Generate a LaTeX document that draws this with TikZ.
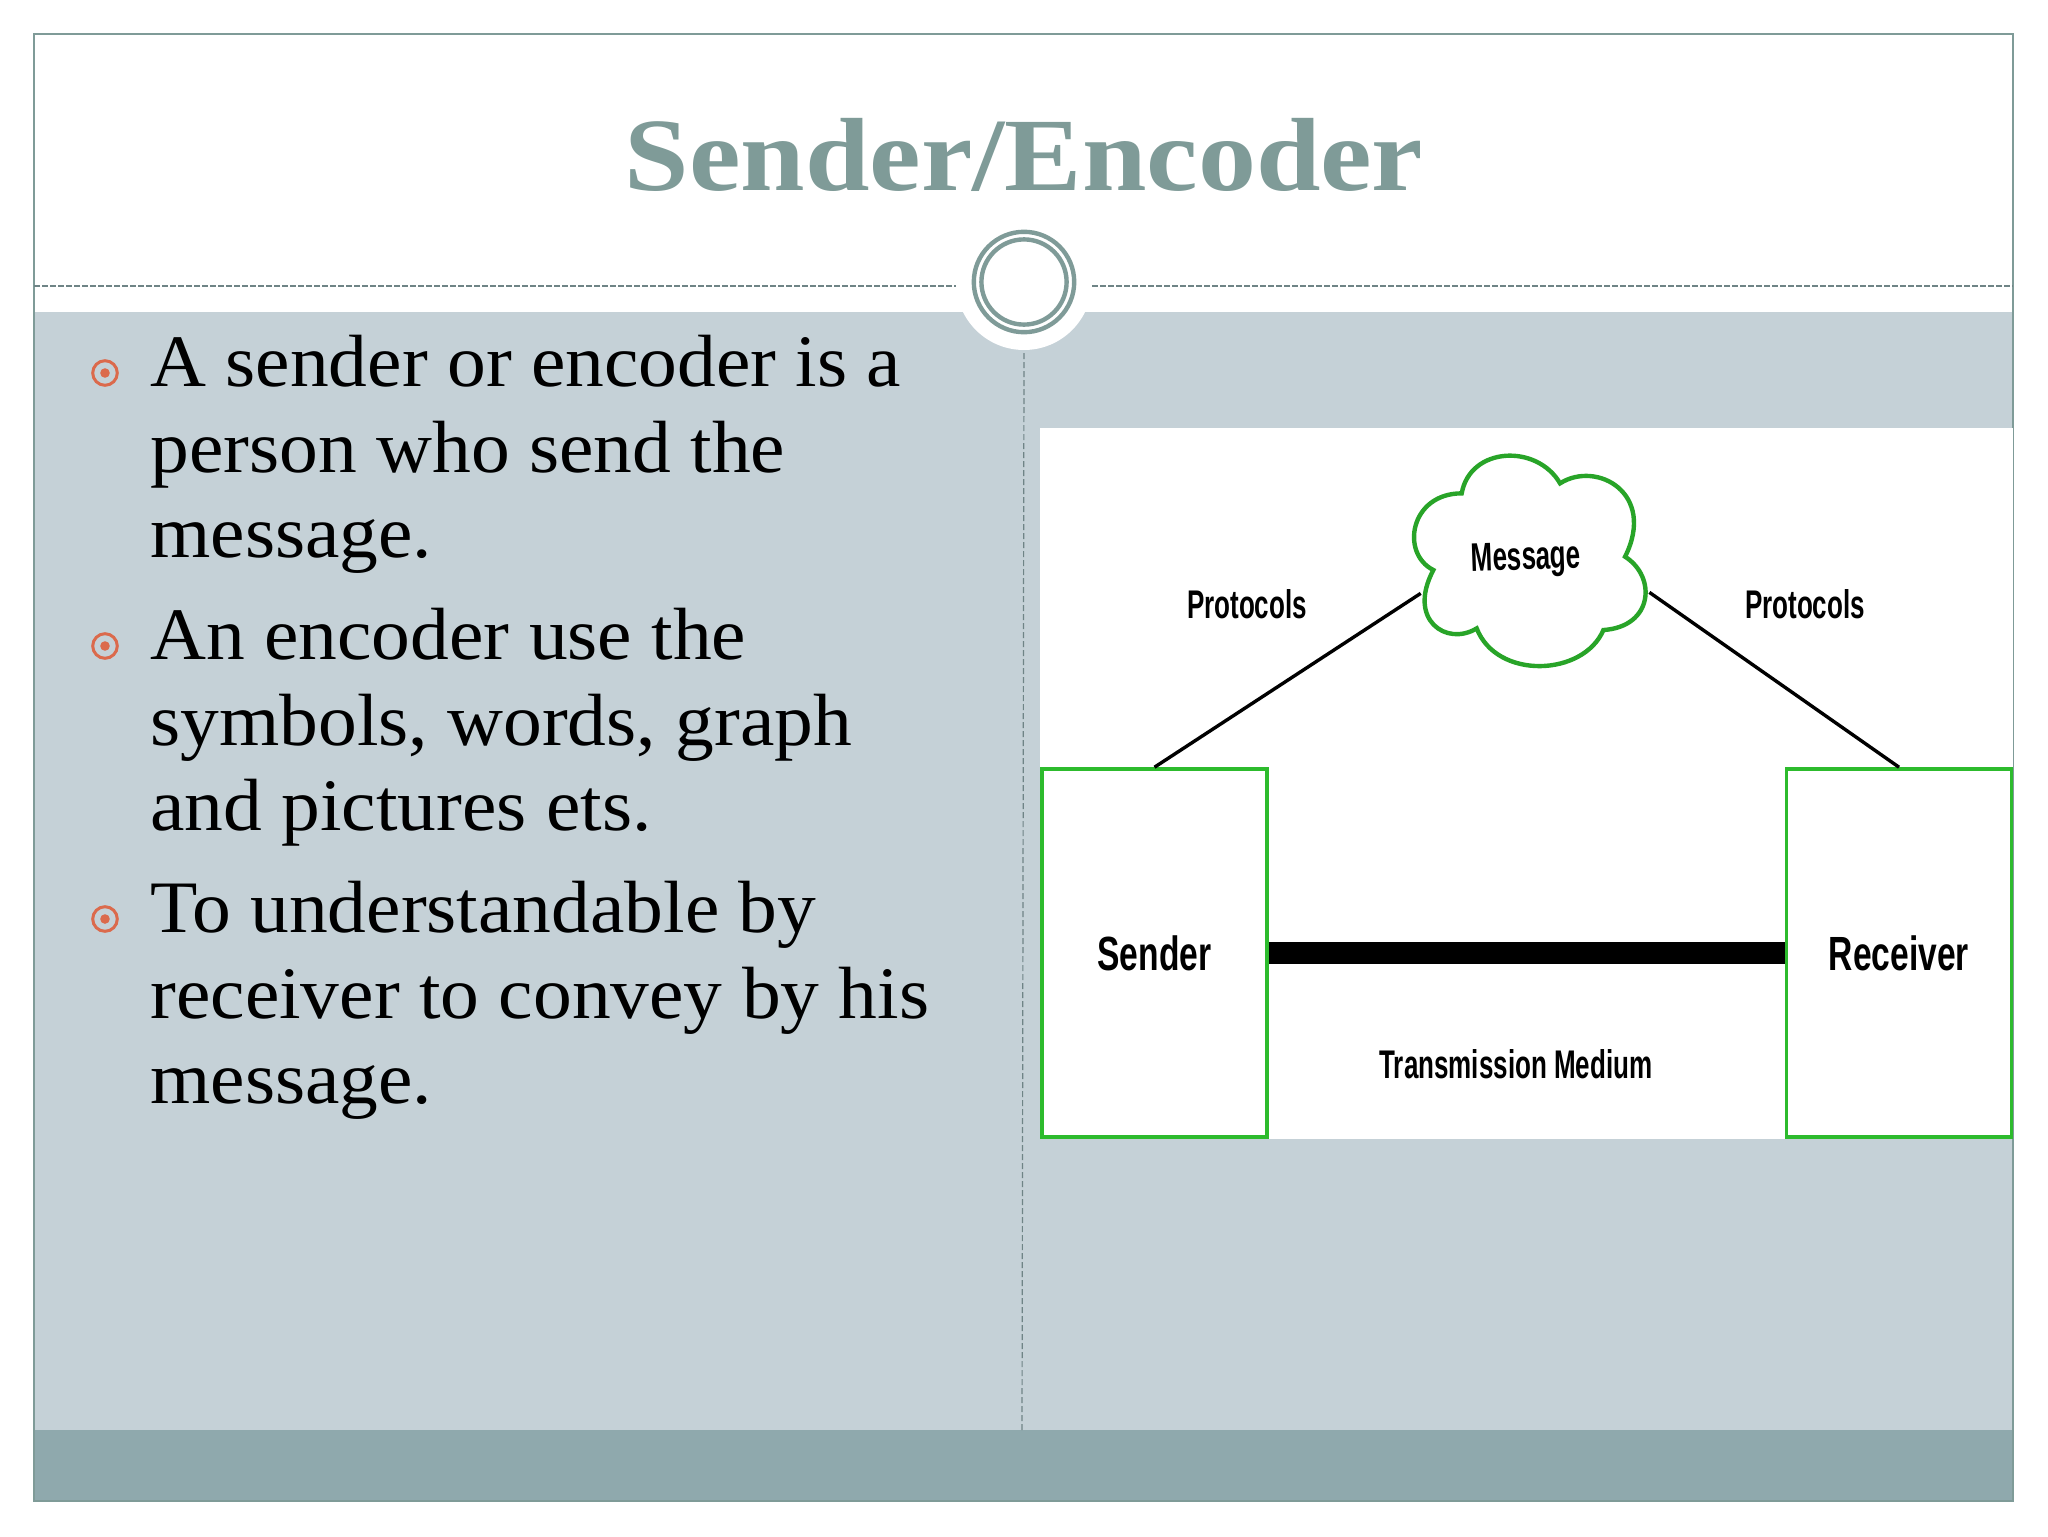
\documentclass[tikz,border=0pt]{standalone}
\usepackage{fontspec}
\setmainfont{Liberation Serif}
\newfontfamily\titlefont[FakeStretch=1.115]{Liberation Serif}
\newfontfamily\bodyfont[FakeStretch=1.047]{Liberation Serif}
\newfontfamily\diagfont[FakeStretch=0.70]{Liberation Sans}
\newfontfamily\labelfont[FakeStretch=0.65]{Liberation Sans}
\definecolor{framec}{HTML}{7F9B98}
\definecolor{bandc}{HTML}{C5D1D7}
\definecolor{footc}{HTML}{8FA9AD}
\definecolor{bulletc}{HTML}{DB6A4C}
\definecolor{dashc}{HTML}{6F8486}
\definecolor{greenc}{HTML}{2DBB2D}
\tikzset{
 bodytext/.style={anchor=north west,align=left,inner sep=0pt,text=black,font=\bodyfont\fontsize{37}{42.8}\selectfont},
 diagbox/.style={draw=greenc,line width=1.8pt,fill=white,minimum width=112.5pt,minimum height=184pt,inner sep=0pt,font=\diagfont\bfseries\fontsize{24}{28}\selectfont},
 diaglabel/.style={inner sep=0pt,font=\labelfont\bfseries\fontsize{20}{24}\selectfont},
 wire/.style={line width=1.7pt,draw=black},
 bulletring/.style={circle,draw=bulletc,line width=1.5pt,minimum size=12.3pt,inner sep=0pt},
 bulletdot/.style={circle,fill=bulletc,minimum size=4.8pt,inner sep=0pt},
}
\begin{document}
\begin{tikzpicture}[x=0.5pt,y=-0.5pt]
\useasboundingbox (0,0) rectangle (2048,1536);
\fill[white] (0,0) rectangle (2048,1536);
\fill[bandc] (34,312) rectangle (2013,1430);
\fill[footc] (34,1430) rectangle (2013,1501);
\draw[framec,line width=0.6pt] (34,34) rectangle (2013,1501);
\fill[white] (1024,282) circle[radius=68];
\draw[dashc,line width=0.6pt,dash pattern=on 3pt off 1pt] (34,286) -- (956,286);
\draw[dashc,line width=0.6pt,dash pattern=on 3pt off 1pt] (1092,286) -- (2013,286);
\draw[dashc,line width=0.6pt,dash pattern=on 3pt off 1.5pt] (1024,353) -- (1022,1430);
\draw[framec,line width=2.2pt] (1024,282) circle[radius=50.2];
\draw[framec,line width=2.2pt] (1024,282) circle[radius=42.6];
\node[inner sep=0pt,text=framec,font=\titlefont\bfseries\fontsize{52}{56}\selectfont,anchor=base] (title) at (1024,190) {Sender/Encoder};
% bullets
\foreach \n/\yy in {a/373,b/646,c/919}{
  \node[bulletring] (ring\n) at (105,\yy) {};
  \node[bulletdot] (dot\n) at (105,\yy) {};
}
\node[bodytext] (p1) at (150,335) {A sender or encoder is a\\person who send the\\message.};
\node[bodytext] (p2) at (150,608) {An encoder use the\\symbols, words, graph\\and pictures ets.};
\node[bodytext] (p3) at (150,881) {To understandable by\\receiver to convey by his\\message.};
% picture
\fill[white] (1040,428) rectangle (2013,1139);
\node[diagbox] (sender) at (1154.5,953) {Sender};
\node[diagbox] (receiver) at (1899,953) {Receiver};
\draw[line width=11pt,draw=black] (sender.east) -- (receiver.west);
\begin{scope}[shift={(1380,430)},x=0.1667pt,y=-0.1667pt]
\draw[greenc!88!black,line width=2.2pt,fill=white] (245,190)
  .. controls (270,50) and (470,40) .. (540,160)
  .. controls (650,90) and (830,190) .. (735,380)
  .. controls (830,440) and (820,590) .. (670,600)
  .. controls (610,740) and (350,750) .. (290,595)
  .. controls (200,650) and (80,570) .. (160,420)
  .. controls (60,370) and (90,190) .. (245,190) -- cycle;
\coordinate (cloudleft) at (122,490);
\coordinate (cloudright) at (808,487);
\end{scope}
\node[diaglabel,rotate=2] (message) at (1526,560) {Message};
\draw[wire] (sender.north) -- (cloudleft);
\draw[wire] (receiver.north) -- (cloudright);
\node[diaglabel] (protol) at (1247,604) {Protocols};
\node[diaglabel] (protor) at (1805,604) {Protocols};
\node[diaglabel] (medium) at (1516,1064) {Transmission Medium};
\end{tikzpicture}
\end{document}
